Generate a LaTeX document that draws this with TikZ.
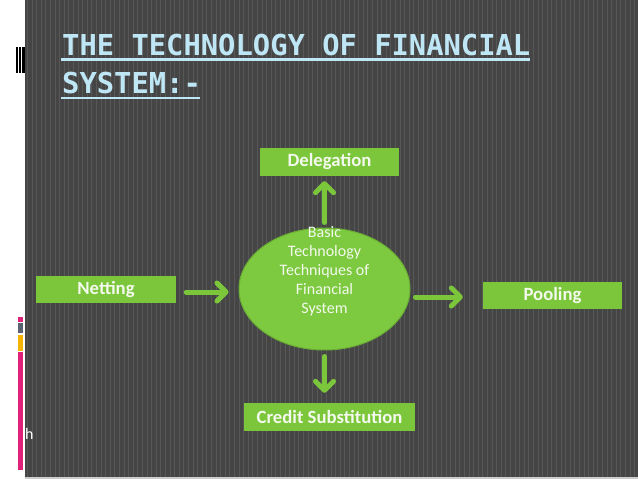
\documentclass[tikz,border=0pt]{standalone}
\usepackage{fontspec}
\newfontfamily\calfont{Carlito}
\newfontfamily\monofont{DejaVu Sans Mono}
\usetikzlibrary{shapes.geometric,arrows.meta}
\definecolor{bgdark}{HTML}{454545}
\definecolor{bgline}{HTML}{575757}
\definecolor{boxgreen}{HTML}{7CC63C}
\definecolor{ellgreen}{HTML}{7DC940}
\definecolor{ellborder}{HTML}{6AAE34}
\definecolor{titleblue}{HTML}{BFE6F5}
\definecolor{boxtext}{HTML}{F3F9EC}
\definecolor{barpink}{HTML}{E0217A}
\definecolor{bargray}{HTML}{5A6470}
\definecolor{baryellow}{HTML}{F5B400}
\tikzset{
  gbox/.style={rectangle, fill=boxgreen, draw=none, inner sep=0pt,
    text=boxtext, font=\calfont\bfseries\fontsize{18.7}{22}\selectfont},
  arr/.style={draw=boxgreen, line width=5pt, line cap=round,
    -{Straight Barb[length=9pt,width=18pt,round]}},
  titletxt/.style={anchor=base west, inner sep=0pt, text=titleblue,
    font=\monofont\bfseries\fontsize{28.8}{34}\selectfont},
  uline/.style={draw=titleblue, line width=2.5pt}
}
\begin{document}
\begin{tikzpicture}[x=1pt,y=-1pt]
\useasboundingbox (0,0) rectangle (638,479);
% background
\fill[white] (0,0) rectangle (638,479);
\fill[bgdark] (25,0) rectangle (638,477);
\foreach \i in {0,...,134} {
  \draw[bgline, line width=1pt] (27.5+4.6*\i,0) -- (27.5+4.6*\i,477);
}
\fill[gray!40] (25,477) rectangle (638,479);
% barcode mark
\fill[black] (16,47) rectangle (17.8,73);
\fill[black] (19.3,47) rectangle (21,73);
\fill[black] (22,47) rectangle (25,73);
% left colour bar
\fill[barpink] (18,317) rectangle (23,322);
\fill[bargray] (18,323) rectangle (23,333);
\fill[baryellow] (18,335) rectangle (23,351);
\fill[barpink] (18,352) rectangle (23,470);
\node[anchor=base west, inner sep=0pt, text=white, font=\calfont\fontsize{16}{18}\selectfont] (hh) at (25,439) {h};
% title
\node[titletxt] (t1) at (62,55.5) {THE TECHNOLOGY OF FINANCIAL};
\node[titletxt] (t2) at (62,93) {SYSTEM:-};
\draw[uline] (61,59.5) -- (530,59.5);
\draw[uline] (61,98) -- (200,98);
% diagram
\node[ellipse, fill=ellgreen, draw=ellborder, line width=1pt,
  minimum width=171pt, minimum height=122pt, inner sep=0pt] (ell) at (324.5,289) {};
\node[align=center, text=boxtext, inner sep=0pt,
  font=\calfont\fontsize{16}{19}\selectfont] (elltxt) at (324.5,271)
  {Basic\\Technology\\Techniques of\\Financial\\System};
\node[gbox, minimum width=139pt, minimum height=28pt] (del) at (329.5,162) {Delegation};
\node[gbox, minimum width=140pt, minimum height=27pt] (net) at (106,289.5) {Netting};
\node[gbox, minimum width=139pt, minimum height=27pt] (pool) at (552.5,295.5) {Pooling};
\node[gbox, minimum width=171pt, minimum height=28pt] (cs) at (329.5,417) {Credit Substitution};
% arrows
\draw[arr] ([yshift=5pt]ell.north) -- ([yshift=-5pt]del.south -| ell.north);
\draw[arr] ([yshift=-6pt]ell.south) -- ([yshift=10pt]cs.north -| ell.south);
\draw[arr] ([xshift=10pt,yshift=-2.5pt]net.east) -- ([xshift=-10pt,yshift=-2.5pt]ell.west |- net.east);
\draw[arr] ([xshift=5pt,yshift=-1.5pt]ell.east |- pool.west) -- ([xshift=-20pt,yshift=-1.5pt]pool.west);
\end{tikzpicture}
\end{document}
